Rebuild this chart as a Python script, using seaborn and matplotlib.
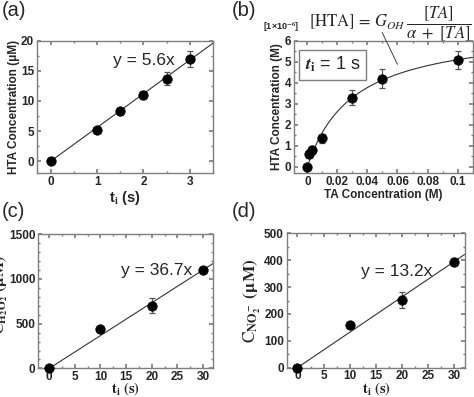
import matplotlib
matplotlib.use("Agg")
import matplotlib.pyplot as plt
from matplotlib.ticker import MultipleLocator
import numpy as np
import seaborn as sns

sns.set_theme(style="ticks")
plt.rcParams["font.family"] = ["Liberation Sans", "DejaVu Sans"]
plt.rcParams["axes.labelweight"] = "bold"
plt.rcParams["mathtext.fontset"] = "stix"

# ── data ─────────────────────────────────────────────────────────────────────
a_t = [0, 1, 1.5, 2, 2.5, 3]
a_hta = [0, 5.1, 8.3, 11.0, 13.7, 17.0]
a_err = [0, 0.3, 0.6, 0.7, 1.1, 1.4]
a_slope = 5.6

b_ta = [0, 0.001, 0.003, 0.01, 0.03, 0.05, 0.1]
b_hta = [0, 0.6, 0.8, 1.35, 3.3, 4.2, 5.1]
b_err = [0, 0.2, 0.2, 0.2, 0.35, 0.45, 0.42]
G_OH = 6.66
ALPHA = 0.0305

c_t = [0, 10, 20, 30]
c_h2o2 = [0, 440, 700, 1100]
c_err = [0, 0, 85, 30]
c_slope = 36.7

d_t = [0, 10, 20, 30]
d_no2 = [0, 160, 253, 395]
d_err = [0, 0, 30, 12]
d_slope = 13.2

GREY = "#7f7f7f"

fig = plt.figure(figsize=(4.74, 3.97), dpi=100)
ax_a = fig.add_axes([0.078, 0.564, 0.371, 0.333])
ax_b = fig.add_axes([0.620, 0.564, 0.377, 0.333])
ax_c = fig.add_axes([0.081, 0.072, 0.369, 0.338])
ax_d = fig.add_axes([0.605, 0.074, 0.377, 0.338])


def style(ax, xmaj, xmin, ymaj, ymin):
    for sp in ax.spines.values():
        sp.set_color(GREY)
        sp.set_linewidth(1.0)
        sp.set_visible(True)
    ax.xaxis.set_major_locator(MultipleLocator(xmaj))
    ax.xaxis.set_minor_locator(MultipleLocator(xmin))
    ax.yaxis.set_major_locator(MultipleLocator(ymaj))
    ax.yaxis.set_minor_locator(MultipleLocator(ymin))
    ax.tick_params(which="both", direction="in", top=True, right=True,
                   color=GREY, labelsize=8.5, pad=2)
    ax.tick_params(which="major", length=3)
    ax.tick_params(which="minor", length=1.5)


def points(ax, x, y, err):
    ax.errorbar(x, y, yerr=err, fmt="none", ecolor="#555555", elinewidth=0.9,
                capsize=2.5, capthick=0.9, zorder=2)
    sns.scatterplot(x=x, y=y, ax=ax, color="black", s=46, edgecolor="black",
                    zorder=3, clip_on=False, legend=False)


# ── (a) ──────────────────────────────────────────────────────────────────────
xa = np.array([0, 3.5])
sns.lineplot(x=xa, y=a_slope * xa, ax=ax_a, color="#333333", lw=0.8)
points(ax_a, a_t, a_hta, a_err)
ax_a.set_xlim(-0.3, 3.5)
ax_a.set_ylim(-2, 20)
style(ax_a, 1, 0.5, 5, 2.5)
ax_a.set_ylabel("HTA Concentration (μM)", fontsize=8.5, labelpad=1)
ax_a.set_xlabel(r"t$_\mathbf{i}$ (s)", fontsize=10.5, labelpad=1)
ax_a.text(1.35, 16.7, "y = 5.6x", fontsize=12.5, va="center")

# ── (b) ──────────────────────────────────────────────────────────────────────
xb = np.linspace(0, 0.11, 200)
sns.lineplot(x=xb, y=G_OH * xb / (ALPHA + xb), ax=ax_b, color="#333333", lw=0.8)
points(ax_b, b_ta, b_hta, b_err)
ax_b.set_xlim(-0.009, 0.11)
ax_b.set_ylim(-0.3, 6)
style(ax_b, 0.02, 0.01, 1, 0.5)
ax_b.set_xticks([0, 0.02, 0.04, 0.06, 0.08, 0.1])
ax_b.set_xticklabels(["0", "0.02", "0.04", "0.06", "0.08", "0.1"])
ax_b.set_ylabel("HTA Concentration (M)", fontsize=8.5, labelpad=1)
ax_b.set_xlabel("TA Concentration (M)", fontsize=8.5, labelpad=1)
ax_b.text(-0.175, 1.1, r"[1×10$^{\mathbf{-6}}$]", transform=ax_b.transAxes,
          fontsize=6.5, fontweight="bold", ha="left", va="center")
ax_b.text(0.06, 0.82, r"$\mathbfit{t}_\mathbf{i}$ = 1 s", transform=ax_b.transAxes,
          fontsize=13, va="center", ha="left",
          bbox=dict(boxstyle="square,pad=0.3", fc="white", ec=GREY, lw=1.0))
ax_b.annotate("", xy=(0.06, 4.88), xytext=(0.0498, 6.4), annotation_clip=False,
              arrowprops=dict(arrowstyle="-", color="#444444", lw=0.7,
                              shrinkA=0, shrinkB=0))
ax_b.text(0.0012, 6.82, r"$\mathrm{[HTA]}\,=\,G_{OH}\,\dfrac{[TA]}{\alpha\ +\ [TA]}$",
          fontsize=12, ha="left", va="center")

# ── (c) ──────────────────────────────────────────────────────────────────────
xc = np.array([0, 32])
sns.lineplot(x=xc, y=c_slope * xc, ax=ax_c, color="#333333", lw=0.8)
points(ax_c, c_t, c_h2o2, c_err)
ax_c.set_xlim(-2.1, 32)
ax_c.set_ylim(0, 1500)
style(ax_c, 5, 2.5, 500, 100)
ax_c.set_ylabel(r"$\mathrm{C}_{\mathbf{H_2O_2}}\ \mathbf{(\mu M)}$", fontsize=11.5,
                labelpad=0)
ax_c.yaxis.set_label_coords(-0.16, 0.55)
ax_c.set_xlabel(r"$\mathbf{t_i\ (s)}$", fontsize=10.5)
ax_c.xaxis.set_label_coords(0.5, -0.09)
ax_c.text(14, 1090, "y = 36.7x", fontsize=12.5, va="center")

# ── (d) ──────────────────────────────────────────────────────────────────────
xd = np.array([0, 32])
sns.lineplot(x=xd, y=d_slope * xd, ax=ax_d, color="#333333", lw=0.8)
points(ax_d, d_t, d_no2, d_err)
ax_d.set_xlim(-2.05, 32.1)
ax_d.set_ylim(0, 500)
style(ax_d, 5, 2.5, 100, 50)
ax_d.set_ylabel(r"$\mathrm{C}_{\mathbf{NO_2^-}}\ \mathbf{(\mu M)}$", fontsize=12.5,
                labelpad=1)
ax_d.set_xlabel(r"$\mathbf{t_i\ (s)}$", fontsize=10.5)
ax_d.xaxis.set_label_coords(0.5, -0.09)
ax_d.text(12.1, 360, "y = 13.2x", fontsize=12.5, va="center")

# ── panel letters ────────────────────────────────────────────────────────────
for x, y, s in [(0.003, 0.997, "(a)"), (0.488, 0.997, "(b)"),
                (0.003, 0.49, "(c)"), (0.488, 0.49, "(d)")]:
    fig.text(x, y, s, fontsize=14.5, ha="left", va="top")

# bold tick labels (ticks are fixed once limits are set)
fig.canvas.draw()
for ax in (ax_a, ax_b, ax_c, ax_d):
    plt.setp(ax.get_xticklabels() + ax.get_yticklabels(), fontweight="bold")

fig.savefig("out.png", dpi=100)
